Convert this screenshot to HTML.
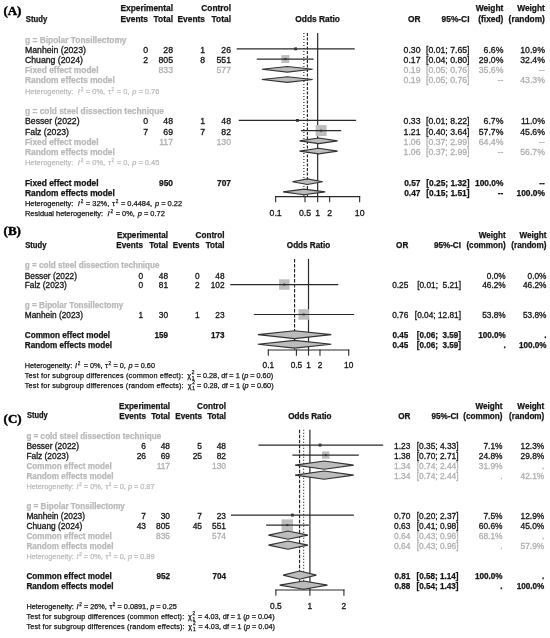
<!DOCTYPE html>
<html lang="en">
<head>
<meta charset="utf-8">
<title>Forest plots</title>
<style>
html,body{margin:0;padding:0;background:#fff;}
body{width:550px;height:638px;overflow:hidden;}
svg{display:block;font-family:"Liberation Sans",Arial,sans-serif;}
text{white-space:pre;}
</style>
</head>
<body>
<svg width="550" height="638" viewBox="0 0 550 638">
<rect width="550" height="638" fill="#ffffff"/>
<g id="panelA">
<text x="3.40" y="15.20" font-weight="bold" fill="#000" stroke="#000" stroke-width="0.45" font-size="13" font-family="Liberation Serif, serif">(A)</text>
<text x="173.00" y="11.48" text-anchor="end" font-weight="bold" fill="#141414" stroke="#141414" stroke-width="0.25" font-size="8.4">Experimental</text>
<text x="231.00" y="11.48" text-anchor="end" font-weight="bold" fill="#141414" stroke="#141414" stroke-width="0.25" font-size="8.4">Control</text>
<text x="503.40" y="11.48" text-anchor="end" font-weight="bold" fill="#141414" stroke="#141414" stroke-width="0.25" font-size="8.4">Weight</text>
<text x="544.90" y="11.48" text-anchor="end" font-weight="bold" fill="#141414" stroke="#141414" stroke-width="0.25" font-size="8.4">Weight</text>
<text x="25.80" y="21.90" font-weight="bold" fill="#141414" stroke="#141414" stroke-width="0.25" font-size="8.4" textLength="21.4" lengthAdjust="spacingAndGlyphs">Study</text>
<text x="148.00" y="21.90" text-anchor="end" font-weight="bold" fill="#141414" stroke="#141414" stroke-width="0.25" font-size="8.4">Events</text>
<text x="173.00" y="21.90" text-anchor="end" font-weight="bold" fill="#141414" stroke="#141414" stroke-width="0.25" font-size="8.4">Total</text>
<text x="205.00" y="21.90" text-anchor="end" font-weight="bold" fill="#141414" stroke="#141414" stroke-width="0.25" font-size="8.4">Events</text>
<text x="231.00" y="21.90" text-anchor="end" font-weight="bold" fill="#141414" stroke="#141414" stroke-width="0.25" font-size="8.4">Total</text>
<text x="317.65" y="21.90" text-anchor="middle" font-weight="bold" fill="#141414" stroke="#141414" stroke-width="0.25" font-size="8.4">Odds Ratio</text>
<text x="420.50" y="21.90" text-anchor="end" font-weight="bold" fill="#141414" stroke="#141414" stroke-width="0.25" font-size="8.4">OR</text>
<text x="469.50" y="21.90" text-anchor="end" font-weight="bold" fill="#141414" stroke="#141414" stroke-width="0.25" font-size="8.4">95%-CI</text>
<text x="503.40" y="21.90" text-anchor="end" font-weight="bold" fill="#141414" stroke="#141414" stroke-width="0.25" font-size="8.4">(fixed)</text>
<text x="544.90" y="21.90" text-anchor="end" font-weight="bold" fill="#141414" stroke="#141414" stroke-width="0.25" font-size="8.4">(random)</text>
<line x1="317.65" y1="32.90" x2="317.65" y2="196.60" stroke="#2a2a2a" stroke-width="1.2"/>
<line x1="307.40" y1="32.90" x2="307.40" y2="196.60" stroke="#222" stroke-width="1.15" stroke-dasharray="3.1 1.4"/>
<line x1="303.88" y1="32.90" x2="303.88" y2="196.60" stroke="#222" stroke-width="1.15" stroke-dasharray="1 2"/>
<text x="25.00" y="42.54" font-weight="bold" fill="#b9b9b9" stroke="#b9b9b9" stroke-width="0.25" font-size="8.4">g = Bipolar Tonsillectomy</text>
<rect x="294.39" y="47.56" width="2.60" height="2.60" fill="#bebebe"/>
<line x1="236.67" y1="48.86" x2="354.76" y2="48.86" stroke="#2a2a2a" stroke-width="1.15"/>
<rect x="294.29" y="47.46" width="2.80" height="2.80" fill="#333"/>
<text x="25.00" y="52.76" fill="#141414" stroke="#141414" stroke-width="0.3" font-size="8.7">Manhein (2023)</text>
<text x="148.00" y="52.76" text-anchor="end" fill="#141414" stroke="#141414" stroke-width="0.3" font-size="8.7">0</text>
<text x="173.00" y="52.76" text-anchor="end" fill="#141414" stroke="#141414" stroke-width="0.3" font-size="8.7">28</text>
<text x="205.00" y="52.76" text-anchor="end" fill="#141414" stroke="#141414" stroke-width="0.3" font-size="8.7">1</text>
<text x="231.00" y="52.76" text-anchor="end" fill="#141414" stroke="#141414" stroke-width="0.3" font-size="8.7">26</text>
<text x="420.50" y="52.76" text-anchor="end" fill="#141414" stroke="#141414" stroke-width="0.3" font-size="8.7">0.30</text>
<text x="469.50" y="52.76" text-anchor="end" fill="#141414" stroke="#141414" stroke-width="0.3" font-size="8.7">[0.01; 7.65]</text>
<text x="503.40" y="52.76" text-anchor="end" fill="#141414" stroke="#141414" stroke-width="0.3" font-size="8.7">6.6%</text>
<text x="544.90" y="52.76" text-anchor="end" fill="#141414" stroke="#141414" stroke-width="0.3" font-size="8.7">10.9%</text>
<rect x="281.33" y="55.08" width="8.00" height="8.00" fill="#bebebe"/>
<line x1="256.76" y1="59.08" x2="313.58" y2="59.08" stroke="#2a2a2a" stroke-width="1.15"/>
<rect x="284.33" y="58.08" width="2.00" height="2.00" fill="#333"/>
<text x="25.00" y="62.98" fill="#141414" stroke="#141414" stroke-width="0.3" font-size="8.7">Chuang (2024)</text>
<text x="148.00" y="62.98" text-anchor="end" fill="#141414" stroke="#141414" stroke-width="0.3" font-size="8.7">2</text>
<text x="173.00" y="62.98" text-anchor="end" fill="#141414" stroke="#141414" stroke-width="0.3" font-size="8.7">805</text>
<text x="205.00" y="62.98" text-anchor="end" fill="#141414" stroke="#141414" stroke-width="0.3" font-size="8.7">8</text>
<text x="231.00" y="62.98" text-anchor="end" fill="#141414" stroke="#141414" stroke-width="0.3" font-size="8.7">551</text>
<text x="420.50" y="62.98" text-anchor="end" fill="#141414" stroke="#141414" stroke-width="0.3" font-size="8.7">0.17</text>
<text x="469.50" y="62.98" text-anchor="end" fill="#141414" stroke="#141414" stroke-width="0.3" font-size="8.7">[0.04; 0.80]</text>
<text x="503.40" y="62.98" text-anchor="end" fill="#141414" stroke="#141414" stroke-width="0.3" font-size="8.7">29.0%</text>
<text x="544.90" y="62.98" text-anchor="end" fill="#141414" stroke="#141414" stroke-width="0.3" font-size="8.7">32.4%</text>
<polygon points="261.88,69.30 287.36,66.50 312.64,69.30 287.36,72.10" fill="#bcbcbc" stroke="#333" stroke-width="1.15" stroke-linejoin="miter"/>
<text x="25.00" y="73.20" font-weight="bold" fill="#b9b9b9" stroke="#b9b9b9" stroke-width="0.25" font-size="8.4">Fixed effect model</text>
<text x="173.00" y="73.20" text-anchor="end" fill="#b0b0b0" stroke="#b0b0b0" stroke-width="0.3" font-size="8.7">833</text>
<text x="231.00" y="73.20" text-anchor="end" fill="#b0b0b0" stroke="#b0b0b0" stroke-width="0.3" font-size="8.7">577</text>
<text x="420.50" y="73.20" text-anchor="end" fill="#b0b0b0" stroke="#b0b0b0" stroke-width="0.3" font-size="8.7">0.19</text>
<text x="469.50" y="73.20" text-anchor="end" fill="#b0b0b0" stroke="#b0b0b0" stroke-width="0.3" font-size="8.7">[0.05; 0.76]</text>
<text x="503.40" y="73.20" text-anchor="end" fill="#b0b0b0" stroke="#b0b0b0" stroke-width="0.3" font-size="8.7">35.6%</text>
<text x="544.90" y="73.20" text-anchor="end" fill="#b0b0b0" stroke="#b0b0b0" stroke-width="0.3" font-size="8.7">--</text>
<polygon points="261.88,79.52 287.36,76.72 312.64,79.52 287.36,82.32" fill="#bcbcbc" stroke="#333" stroke-width="1.15" stroke-linejoin="miter"/>
<text x="25.00" y="83.42" font-weight="bold" fill="#b9b9b9" stroke="#b9b9b9" stroke-width="0.25" font-size="8.4">Random effects model</text>
<text x="420.50" y="83.42" text-anchor="end" fill="#b0b0b0" stroke="#b0b0b0" stroke-width="0.3" font-size="8.7">0.19</text>
<text x="469.50" y="83.42" text-anchor="end" fill="#b0b0b0" stroke="#b0b0b0" stroke-width="0.3" font-size="8.7">[0.05; 0.76]</text>
<text x="503.40" y="83.42" text-anchor="end" fill="#b0b0b0" stroke="#b0b0b0" stroke-width="0.3" font-size="8.7">--</text>
<text x="544.90" y="83.42" text-anchor="end" fill="#b0b0b0" stroke="#b0b0b0" stroke-width="0.3" font-size="8.7">43.3%</text>
<text x="25.00" y="93.64" fill="#bcbcbc" stroke="#bcbcbc" stroke-width="0.25" font-size="7.45">Heterogeneity: <tspan font-style="italic" dx="2.2">I</tspan><tspan dy="-2.9" dx="0.9" font-size="4.6">2</tspan><tspan dy="2.9" dx="0.6"> </tspan>= 0%, <tspan dx="0.8">τ</tspan><tspan dy="-2.9" dx="0.6" font-size="4.6">2</tspan><tspan dy="2.9" dx="0.6"> </tspan>= 0, <tspan font-style="italic" dx="0.8">p</tspan> = 0.76</text>
<text x="25.00" y="114.08" font-weight="bold" fill="#b9b9b9" stroke="#b9b9b9" stroke-width="0.25" font-size="8.4">g = cold steel dissection technique</text>
<rect x="296.13" y="119.10" width="2.60" height="2.60" fill="#bebebe"/>
<line x1="238.71" y1="120.40" x2="356.07" y2="120.40" stroke="#2a2a2a" stroke-width="1.15"/>
<rect x="296.03" y="119.00" width="2.80" height="2.80" fill="#333"/>
<text x="25.00" y="124.30" fill="#141414" stroke="#141414" stroke-width="0.3" font-size="8.7">Besser (2022)</text>
<text x="148.00" y="124.30" text-anchor="end" fill="#141414" stroke="#141414" stroke-width="0.3" font-size="8.7">0</text>
<text x="173.00" y="124.30" text-anchor="end" fill="#141414" stroke="#141414" stroke-width="0.3" font-size="8.7">48</text>
<text x="205.00" y="124.30" text-anchor="end" fill="#141414" stroke="#141414" stroke-width="0.3" font-size="8.7">1</text>
<text x="231.00" y="124.30" text-anchor="end" fill="#141414" stroke="#141414" stroke-width="0.3" font-size="8.7">48</text>
<text x="420.50" y="124.30" text-anchor="end" fill="#141414" stroke="#141414" stroke-width="0.3" font-size="8.7">0.33</text>
<text x="469.50" y="124.30" text-anchor="end" fill="#141414" stroke="#141414" stroke-width="0.3" font-size="8.7">[0.01; 8.22]</text>
<text x="503.40" y="124.30" text-anchor="end" fill="#141414" stroke="#141414" stroke-width="0.3" font-size="8.7">6.7%</text>
<text x="544.90" y="124.30" text-anchor="end" fill="#141414" stroke="#141414" stroke-width="0.3" font-size="8.7">11.0%</text>
<rect x="315.63" y="125.12" width="11.00" height="11.00" fill="#bebebe"/>
<line x1="300.94" y1="130.62" x2="341.22" y2="130.62" stroke="#2a2a2a" stroke-width="1.15"/>
<rect x="320.13" y="129.62" width="2.00" height="2.00" fill="#333"/>
<text x="25.00" y="134.52" fill="#141414" stroke="#141414" stroke-width="0.3" font-size="8.7">Falz (2023)</text>
<text x="148.00" y="134.52" text-anchor="end" fill="#141414" stroke="#141414" stroke-width="0.3" font-size="8.7">7</text>
<text x="173.00" y="134.52" text-anchor="end" fill="#141414" stroke="#141414" stroke-width="0.3" font-size="8.7">69</text>
<text x="205.00" y="134.52" text-anchor="end" fill="#141414" stroke="#141414" stroke-width="0.3" font-size="8.7">7</text>
<text x="231.00" y="134.52" text-anchor="end" fill="#141414" stroke="#141414" stroke-width="0.3" font-size="8.7">82</text>
<text x="420.50" y="134.52" text-anchor="end" fill="#141414" stroke="#141414" stroke-width="0.3" font-size="8.7">1.21</text>
<text x="469.50" y="134.52" text-anchor="end" fill="#141414" stroke="#141414" stroke-width="0.3" font-size="8.7">[0.40; 3.64]</text>
<text x="503.40" y="134.52" text-anchor="end" fill="#141414" stroke="#141414" stroke-width="0.3" font-size="8.7">57.7%</text>
<text x="544.90" y="134.52" text-anchor="end" fill="#141414" stroke="#141414" stroke-width="0.3" font-size="8.7">45.6%</text>
<polygon points="299.51,140.84 318.71,138.04 337.63,140.84 318.71,143.64" fill="#bcbcbc" stroke="#333" stroke-width="1.15" stroke-linejoin="miter"/>
<text x="25.00" y="144.74" font-weight="bold" fill="#b9b9b9" stroke="#b9b9b9" stroke-width="0.25" font-size="8.4">Fixed effect model</text>
<text x="173.00" y="144.74" text-anchor="end" fill="#b0b0b0" stroke="#b0b0b0" stroke-width="0.3" font-size="8.7">117</text>
<text x="231.00" y="144.74" text-anchor="end" fill="#b0b0b0" stroke="#b0b0b0" stroke-width="0.3" font-size="8.7">130</text>
<text x="420.50" y="144.74" text-anchor="end" fill="#b0b0b0" stroke="#b0b0b0" stroke-width="0.3" font-size="8.7">1.06</text>
<text x="469.50" y="144.74" text-anchor="end" fill="#b0b0b0" stroke="#b0b0b0" stroke-width="0.3" font-size="8.7">[0.37; 2.99]</text>
<text x="503.40" y="144.74" text-anchor="end" fill="#b0b0b0" stroke="#b0b0b0" stroke-width="0.3" font-size="8.7">64.4%</text>
<text x="544.90" y="144.74" text-anchor="end" fill="#b0b0b0" stroke="#b0b0b0" stroke-width="0.3" font-size="8.7">--</text>
<polygon points="299.51,151.06 318.71,148.26 337.63,151.06 318.71,153.86" fill="#bcbcbc" stroke="#333" stroke-width="1.15" stroke-linejoin="miter"/>
<text x="25.00" y="154.96" font-weight="bold" fill="#b9b9b9" stroke="#b9b9b9" stroke-width="0.25" font-size="8.4">Random effects model</text>
<text x="420.50" y="154.96" text-anchor="end" fill="#b0b0b0" stroke="#b0b0b0" stroke-width="0.3" font-size="8.7">1.06</text>
<text x="469.50" y="154.96" text-anchor="end" fill="#b0b0b0" stroke="#b0b0b0" stroke-width="0.3" font-size="8.7">[0.37; 2.99]</text>
<text x="503.40" y="154.96" text-anchor="end" fill="#b0b0b0" stroke="#b0b0b0" stroke-width="0.3" font-size="8.7">--</text>
<text x="544.90" y="154.96" text-anchor="end" fill="#b0b0b0" stroke="#b0b0b0" stroke-width="0.3" font-size="8.7">56.7%</text>
<text x="25.00" y="165.18" fill="#bcbcbc" stroke="#bcbcbc" stroke-width="0.25" font-size="7.45">Heterogeneity: <tspan font-style="italic" dx="2.2">I</tspan><tspan dy="-2.9" dx="0.9" font-size="4.6">2</tspan><tspan dy="2.9" dx="0.6"> </tspan>= 0%, <tspan dx="0.8">τ</tspan><tspan dy="-2.9" dx="0.6" font-size="4.6">2</tspan><tspan dy="2.9" dx="0.6"> </tspan>= 0, <tspan font-style="italic" dx="0.8">p</tspan> = 0.45</text>
<polygon points="292.36,181.72 307.40,178.92 322.71,181.72 307.40,184.52" fill="#bcbcbc" stroke="#333" stroke-width="1.15" stroke-linejoin="miter"/>
<text x="25.00" y="185.62" font-weight="bold" fill="#141414" stroke="#141414" stroke-width="0.25" font-size="8.4">Fixed effect model</text>
<text x="173.00" y="185.62" text-anchor="end" font-weight="bold" fill="#141414" stroke="#141414" stroke-width="0.25" font-size="8.4">950</text>
<text x="231.00" y="185.62" text-anchor="end" font-weight="bold" fill="#141414" stroke="#141414" stroke-width="0.25" font-size="8.4">707</text>
<text x="420.50" y="185.62" text-anchor="end" font-weight="bold" fill="#141414" stroke="#141414" stroke-width="0.25" font-size="8.4">0.57</text>
<text x="469.50" y="185.62" text-anchor="end" font-weight="bold" fill="#141414" stroke="#141414" stroke-width="0.25" font-size="8.4">[0.25; 1.32]</text>
<text x="503.40" y="185.62" text-anchor="end" font-weight="bold" fill="#141414" stroke="#141414" stroke-width="0.25" font-size="8.4">100.0%</text>
<text x="544.90" y="185.62" text-anchor="end" font-weight="bold" fill="#141414" stroke="#141414" stroke-width="0.25" font-size="8.4">--</text>
<polygon points="283.05,191.94 303.88,189.14 325.17,191.94 303.88,194.74" fill="#bcbcbc" stroke="#333" stroke-width="1.15" stroke-linejoin="miter"/>
<text x="25.00" y="195.84" font-weight="bold" fill="#141414" stroke="#141414" stroke-width="0.25" font-size="8.4">Random effects model</text>
<text x="420.50" y="195.84" text-anchor="end" font-weight="bold" fill="#141414" stroke="#141414" stroke-width="0.25" font-size="8.4">0.47</text>
<text x="469.50" y="195.84" text-anchor="end" font-weight="bold" fill="#141414" stroke="#141414" stroke-width="0.25" font-size="8.4">[0.15; 1.51]</text>
<text x="503.40" y="195.84" text-anchor="end" font-weight="bold" fill="#141414" stroke="#141414" stroke-width="0.25" font-size="8.4">--</text>
<text x="544.90" y="195.84" text-anchor="end" font-weight="bold" fill="#141414" stroke="#141414" stroke-width="0.25" font-size="8.4">100.0%</text>
<text x="25.00" y="206.06" fill="#141414" stroke="#141414" stroke-width="0.25" font-size="7.45">Heterogeneity: <tspan font-style="italic" dx="2.2">I</tspan><tspan dy="-2.9" dx="0.9" font-size="4.6">2</tspan><tspan dy="2.9" dx="0.6"> </tspan>= 32%, <tspan dx="0.8">τ</tspan><tspan dy="-2.9" dx="0.6" font-size="4.6">2</tspan><tspan dy="2.9" dx="0.6"> </tspan>= 0.4484, <tspan font-style="italic" dx="0.8">p</tspan> = 0.22</text>
<text x="25.00" y="216.28" fill="#141414" stroke="#141414" stroke-width="0.25" font-size="7.45">Residual heterogeneity: <tspan font-style="italic" dx="2.2">I</tspan><tspan dy="-2.9" dx="0.9" font-size="4.6">2</tspan><tspan dy="2.9" dx="0.6"> </tspan>= 0%, <tspan font-style="italic" dx="0.8">p</tspan> = 0.72</text>
<line x1="275.15" y1="196.60" x2="360.15" y2="196.60" stroke="#2a2a2a" stroke-width="1.1"/>
<line x1="275.65" y1="196.10" x2="275.65" y2="202.30" stroke="#2a2a2a" stroke-width="1.1"/>
<line x1="305.01" y1="196.10" x2="305.01" y2="202.30" stroke="#2a2a2a" stroke-width="1.1"/>
<line x1="317.65" y1="196.10" x2="317.65" y2="202.30" stroke="#2a2a2a" stroke-width="1.1"/>
<line x1="329.64" y1="196.10" x2="329.64" y2="202.30" stroke="#2a2a2a" stroke-width="1.1"/>
<line x1="359.65" y1="196.10" x2="359.65" y2="202.30" stroke="#2a2a2a" stroke-width="1.1"/>
<text x="275.65" y="215.60" text-anchor="middle" fill="#141414" stroke="#141414" stroke-width="0.3" font-size="8.7">0.1</text>
<text x="305.01" y="215.60" text-anchor="middle" fill="#141414" stroke="#141414" stroke-width="0.3" font-size="8.7">0.5</text>
<text x="317.65" y="215.60" text-anchor="middle" fill="#141414" stroke="#141414" stroke-width="0.3" font-size="8.7">1</text>
<text x="329.64" y="215.60" text-anchor="middle" fill="#141414" stroke="#141414" stroke-width="0.3" font-size="8.7">2</text>
<text x="359.65" y="215.60" text-anchor="middle" fill="#141414" stroke="#141414" stroke-width="0.3" font-size="8.7">10</text>
</g>
<g id="panelB">
<text x="3.60" y="234.80" font-weight="bold" fill="#000" stroke="#000" stroke-width="0.45" font-size="13" font-family="Liberation Serif, serif">(B)</text>
<text x="168.00" y="238.30" text-anchor="end" font-weight="bold" fill="#141414" stroke="#141414" stroke-width="0.25" font-size="8.15">Experimental</text>
<text x="224.50" y="238.30" text-anchor="end" font-weight="bold" fill="#141414" stroke="#141414" stroke-width="0.25" font-size="8.15">Control</text>
<text x="505.70" y="238.30" text-anchor="end" font-weight="bold" fill="#141414" stroke="#141414" stroke-width="0.25" font-size="8.15">Weight</text>
<text x="546.50" y="238.30" text-anchor="end" font-weight="bold" fill="#141414" stroke="#141414" stroke-width="0.25" font-size="8.15">Weight</text>
<text x="25.20" y="247.50" font-weight="bold" fill="#141414" stroke="#141414" stroke-width="0.25" font-size="8.15" textLength="21.2" lengthAdjust="spacingAndGlyphs">Study</text>
<text x="143.00" y="247.50" text-anchor="end" font-weight="bold" fill="#141414" stroke="#141414" stroke-width="0.25" font-size="8.15">Events</text>
<text x="168.00" y="247.50" text-anchor="end" font-weight="bold" fill="#141414" stroke="#141414" stroke-width="0.25" font-size="8.15">Total</text>
<text x="199.50" y="247.50" text-anchor="end" font-weight="bold" fill="#141414" stroke="#141414" stroke-width="0.25" font-size="8.15">Events</text>
<text x="224.50" y="247.50" text-anchor="end" font-weight="bold" fill="#141414" stroke="#141414" stroke-width="0.25" font-size="8.15">Total</text>
<text x="308.50" y="247.50" text-anchor="middle" font-weight="bold" fill="#141414" stroke="#141414" stroke-width="0.25" font-size="8.15">Odds Ratio</text>
<text x="408.30" y="247.50" text-anchor="end" font-weight="bold" fill="#141414" stroke="#141414" stroke-width="0.25" font-size="8.15">OR</text>
<text x="461.00" y="247.50" text-anchor="end" font-weight="bold" fill="#141414" stroke="#141414" stroke-width="0.25" font-size="8.15">95%-CI</text>
<text x="505.70" y="247.50" text-anchor="end" font-weight="bold" fill="#141414" stroke="#141414" stroke-width="0.25" font-size="8.15">(common)</text>
<text x="546.50" y="247.50" text-anchor="end" font-weight="bold" fill="#141414" stroke="#141414" stroke-width="0.25" font-size="8.15">(random)</text>
<line x1="308.50" y1="258.90" x2="308.50" y2="350.00" stroke="#2a2a2a" stroke-width="1.2"/>
<line x1="294.56" y1="258.90" x2="294.56" y2="350.00" stroke="#222" stroke-width="1.15" stroke-dasharray="3.7 1.3"/>
<text x="24.80" y="267.80" font-weight="bold" fill="#b9b9b9" stroke="#b9b9b9" stroke-width="0.25" font-size="8.15">g = cold steel dissection technique</text>
<text x="24.80" y="278.50" fill="#141414" stroke="#141414" stroke-width="0.3" font-size="8.3">Besser (2022)</text>
<text x="143.00" y="278.50" text-anchor="end" fill="#141414" stroke="#141414" stroke-width="0.3" font-size="8.3">0</text>
<text x="168.00" y="278.50" text-anchor="end" fill="#141414" stroke="#141414" stroke-width="0.3" font-size="8.3">48</text>
<text x="199.50" y="278.50" text-anchor="end" fill="#141414" stroke="#141414" stroke-width="0.3" font-size="8.3">0</text>
<text x="224.50" y="278.50" text-anchor="end" fill="#141414" stroke="#141414" stroke-width="0.3" font-size="8.3">48</text>
<text x="505.70" y="278.50" text-anchor="end" fill="#141414" stroke="#141414" stroke-width="0.3" font-size="8.3">0.0%</text>
<text x="546.50" y="278.50" text-anchor="end" fill="#141414" stroke="#141414" stroke-width="0.3" font-size="8.3">0.0%</text>
<rect x="279.05" y="279.30" width="10.50" height="10.50" fill="#bebebe"/>
<line x1="230.23" y1="284.55" x2="338.26" y2="284.55" stroke="#2a2a2a" stroke-width="1.15"/>
<rect x="283.30" y="283.55" width="2.00" height="2.00" fill="#333"/>
<text x="24.80" y="287.90" fill="#141414" stroke="#141414" stroke-width="0.3" font-size="8.3">Falz (2023)</text>
<text x="143.00" y="287.90" text-anchor="end" fill="#141414" stroke="#141414" stroke-width="0.3" font-size="8.3">0</text>
<text x="168.00" y="287.90" text-anchor="end" fill="#141414" stroke="#141414" stroke-width="0.3" font-size="8.3">81</text>
<text x="199.50" y="287.90" text-anchor="end" fill="#141414" stroke="#141414" stroke-width="0.3" font-size="8.3">2</text>
<text x="224.50" y="287.90" text-anchor="end" fill="#141414" stroke="#141414" stroke-width="0.3" font-size="8.3">102</text>
<text x="408.30" y="287.90" text-anchor="end" fill="#141414" stroke="#141414" stroke-width="0.3" font-size="8.3">0.25</text>
<text x="461.00" y="287.90" text-anchor="end" fill="#141414" stroke="#141414" stroke-width="0.3" font-size="8.3">[0.01;  5.21]</text>
<text x="505.70" y="287.90" text-anchor="end" fill="#141414" stroke="#141414" stroke-width="0.3" font-size="8.3">46.2%</text>
<text x="546.50" y="287.90" text-anchor="end" fill="#141414" stroke="#141414" stroke-width="0.3" font-size="8.3">46.2%</text>
<text x="24.80" y="307.80" font-weight="bold" fill="#b9b9b9" stroke="#b9b9b9" stroke-width="0.25" font-size="8.15">g = Bipolar Tonsillectomy</text>
<rect x="298.46" y="309.20" width="10.50" height="10.50" fill="#bebebe"/>
<line x1="253.77" y1="314.45" x2="354.20" y2="314.45" stroke="#2a2a2a" stroke-width="1.15"/>
<rect x="302.71" y="313.45" width="2.00" height="2.00" fill="#333"/>
<text x="24.80" y="317.80" fill="#141414" stroke="#141414" stroke-width="0.3" font-size="8.3">Manhein (2023)</text>
<text x="143.00" y="317.80" text-anchor="end" fill="#141414" stroke="#141414" stroke-width="0.3" font-size="8.3">1</text>
<text x="168.00" y="317.80" text-anchor="end" fill="#141414" stroke="#141414" stroke-width="0.3" font-size="8.3">30</text>
<text x="199.50" y="317.80" text-anchor="end" fill="#141414" stroke="#141414" stroke-width="0.3" font-size="8.3">1</text>
<text x="224.50" y="317.80" text-anchor="end" fill="#141414" stroke="#141414" stroke-width="0.3" font-size="8.3">23</text>
<text x="408.30" y="317.80" text-anchor="end" fill="#141414" stroke="#141414" stroke-width="0.3" font-size="8.3">0.76</text>
<text x="461.00" y="317.80" text-anchor="end" fill="#141414" stroke="#141414" stroke-width="0.3" font-size="8.3">[0.04; 12.81]</text>
<text x="505.70" y="317.80" text-anchor="end" fill="#141414" stroke="#141414" stroke-width="0.3" font-size="8.3">53.8%</text>
<text x="546.50" y="317.80" text-anchor="end" fill="#141414" stroke="#141414" stroke-width="0.3" font-size="8.3">53.8%</text>
<polygon points="257.86,334.65 294.56,330.75 331.29,334.65 294.56,338.55" fill="#bcbcbc" stroke="#333" stroke-width="1.15" stroke-linejoin="miter"/>
<text x="24.80" y="338.00" font-weight="bold" fill="#141414" stroke="#141414" stroke-width="0.25" font-size="8.15">Common effect model</text>
<text x="168.00" y="338.00" text-anchor="end" font-weight="bold" fill="#141414" stroke="#141414" stroke-width="0.25" font-size="8.15">159</text>
<text x="224.50" y="338.00" text-anchor="end" font-weight="bold" fill="#141414" stroke="#141414" stroke-width="0.25" font-size="8.15">173</text>
<text x="408.30" y="338.00" text-anchor="end" font-weight="bold" fill="#141414" stroke="#141414" stroke-width="0.25" font-size="8.15">0.45</text>
<text x="461.00" y="338.00" text-anchor="end" font-weight="bold" fill="#141414" stroke="#141414" stroke-width="0.25" font-size="8.15">[0.06;  3.59]</text>
<text x="505.70" y="338.00" text-anchor="end" font-weight="bold" fill="#141414" stroke="#141414" stroke-width="0.25" font-size="8.15">100.0%</text>
<text x="546.50" y="338.00" text-anchor="end" font-weight="bold" fill="#141414" stroke="#141414" stroke-width="0.25" font-size="8.15">.</text>
<polygon points="257.86,344.25 294.56,340.35 331.29,344.25 294.56,348.15" fill="#bcbcbc" stroke="#333" stroke-width="1.15" stroke-linejoin="miter"/>
<text x="24.80" y="347.60" font-weight="bold" fill="#141414" stroke="#141414" stroke-width="0.25" font-size="8.15">Random effects model</text>
<text x="408.30" y="347.60" text-anchor="end" font-weight="bold" fill="#141414" stroke="#141414" stroke-width="0.25" font-size="8.15">0.45</text>
<text x="461.00" y="347.60" text-anchor="end" font-weight="bold" fill="#141414" stroke="#141414" stroke-width="0.25" font-size="8.15">[0.06;  3.59]</text>
<text x="505.70" y="347.60" text-anchor="end" font-weight="bold" fill="#141414" stroke="#141414" stroke-width="0.25" font-size="8.15">.</text>
<text x="546.50" y="347.60" text-anchor="end" font-weight="bold" fill="#141414" stroke="#141414" stroke-width="0.25" font-size="8.15">100.0%</text>
<text x="24.80" y="368.20" fill="#141414" stroke="#141414" stroke-width="0.25" font-size="7.3">Heterogeneity: <tspan font-style="italic" dx="0.7">I</tspan><tspan dy="-2.9" dx="0.7" font-size="4.6">2</tspan><tspan dy="2.9" dx="1.3"> </tspan>= 0%, <tspan dx="0.6">τ</tspan><tspan dy="-2.9" dx="0.4" font-size="4.6">2</tspan><tspan dy="2.9" dx="0.4"> </tspan>= 0, <tspan font-style="italic" dx="0.6">p</tspan> = 0.60</text>
<text x="24.80" y="377.60" fill="#141414" stroke="#141414" stroke-width="0.25" font-size="7.3" textLength="158.4" lengthAdjust="spacing">Test for subgroup differences (common effect):</text>
<text x="187.30" y="377.60" fill="#141414" stroke="#141414" stroke-width="0.25" font-size="7.3">χ</text>
<text x="191.80" y="374.30" fill="#141414" stroke="#141414" stroke-width="0.25" font-size="4.8">2</text>
<text x="191.80" y="379.50" fill="#141414" stroke="#141414" stroke-width="0.25" font-size="4.8">1</text>
<text x="196.70" y="377.60" fill="#141414" stroke="#141414" stroke-width="0.25" font-size="7.3">= 0.28, df = 1 (<tspan font-style="italic">p</tspan> = 0.60)</text>
<text x="24.80" y="387.70" fill="#141414" stroke="#141414" stroke-width="0.25" font-size="7.3" textLength="158.8" lengthAdjust="spacing">Test for subgroup differences (random effects):</text>
<text x="187.70" y="387.70" fill="#141414" stroke="#141414" stroke-width="0.25" font-size="7.3">χ</text>
<text x="192.20" y="384.40" fill="#141414" stroke="#141414" stroke-width="0.25" font-size="4.8">2</text>
<text x="192.20" y="389.60" fill="#141414" stroke="#141414" stroke-width="0.25" font-size="4.8">1</text>
<text x="197.10" y="387.70" fill="#141414" stroke="#141414" stroke-width="0.25" font-size="7.3">= 0.28, df = 1 (<tspan font-style="italic">p</tspan> = 0.60)</text>
<line x1="267.80" y1="350.00" x2="349.20" y2="350.00" stroke="#2a2a2a" stroke-width="1.1"/>
<line x1="268.30" y1="349.50" x2="268.30" y2="355.70" stroke="#2a2a2a" stroke-width="1.1"/>
<line x1="296.40" y1="349.50" x2="296.40" y2="355.70" stroke="#2a2a2a" stroke-width="1.1"/>
<line x1="308.50" y1="349.50" x2="308.50" y2="355.70" stroke="#2a2a2a" stroke-width="1.1"/>
<line x1="319.98" y1="349.50" x2="319.98" y2="355.70" stroke="#2a2a2a" stroke-width="1.1"/>
<line x1="348.70" y1="349.50" x2="348.70" y2="355.70" stroke="#2a2a2a" stroke-width="1.1"/>
<text x="268.30" y="368.30" text-anchor="middle" fill="#141414" stroke="#141414" stroke-width="0.3" font-size="8.3">0.1</text>
<text x="296.40" y="368.30" text-anchor="middle" fill="#141414" stroke="#141414" stroke-width="0.3" font-size="8.3">0.5</text>
<text x="308.50" y="368.30" text-anchor="middle" fill="#141414" stroke="#141414" stroke-width="0.3" font-size="8.3">1</text>
<text x="319.98" y="368.30" text-anchor="middle" fill="#141414" stroke="#141414" stroke-width="0.3" font-size="8.3">2</text>
<text x="348.70" y="368.30" text-anchor="middle" fill="#141414" stroke="#141414" stroke-width="0.3" font-size="8.3">10</text>
</g>
<g id="panelC">
<text x="3.60" y="422.90" font-weight="bold" fill="#000" stroke="#000" stroke-width="0.45" font-size="13" font-family="Liberation Serif, serif">(C)</text>
<text x="170.00" y="408.50" text-anchor="end" font-weight="bold" fill="#141414" stroke="#141414" stroke-width="0.25" font-size="8.15">Experimental</text>
<text x="226.00" y="408.50" text-anchor="end" font-weight="bold" fill="#141414" stroke="#141414" stroke-width="0.25" font-size="8.15">Control</text>
<text x="502.50" y="408.50" text-anchor="end" font-weight="bold" fill="#141414" stroke="#141414" stroke-width="0.25" font-size="8.15">Weight</text>
<text x="544.30" y="408.50" text-anchor="end" font-weight="bold" fill="#141414" stroke="#141414" stroke-width="0.25" font-size="8.15">Weight</text>
<text x="26.90" y="417.70" font-weight="bold" fill="#141414" stroke="#141414" stroke-width="0.25" font-size="8.15" textLength="20.8" lengthAdjust="spacingAndGlyphs">Study</text>
<text x="146.00" y="418.90" text-anchor="end" font-weight="bold" fill="#141414" stroke="#141414" stroke-width="0.25" font-size="8.15">Events</text>
<text x="170.00" y="418.90" text-anchor="end" font-weight="bold" fill="#141414" stroke="#141414" stroke-width="0.25" font-size="8.15">Total</text>
<text x="202.00" y="418.90" text-anchor="end" font-weight="bold" fill="#141414" stroke="#141414" stroke-width="0.25" font-size="8.15">Events</text>
<text x="226.00" y="418.90" text-anchor="end" font-weight="bold" fill="#141414" stroke="#141414" stroke-width="0.25" font-size="8.15">Total</text>
<text x="309.90" y="418.90" text-anchor="middle" font-weight="bold" fill="#141414" stroke="#141414" stroke-width="0.25" font-size="8.15">Odds Ratio</text>
<text x="410.40" y="418.90" text-anchor="end" font-weight="bold" fill="#141414" stroke="#141414" stroke-width="0.25" font-size="8.15">OR</text>
<text x="458.60" y="418.90" text-anchor="end" font-weight="bold" fill="#141414" stroke="#141414" stroke-width="0.25" font-size="8.15">95%-CI</text>
<text x="502.50" y="418.90" text-anchor="end" font-weight="bold" fill="#141414" stroke="#141414" stroke-width="0.25" font-size="8.15">(common)</text>
<text x="544.30" y="418.90" text-anchor="end" font-weight="bold" fill="#141414" stroke="#141414" stroke-width="0.25" font-size="8.15">(random)</text>
<line x1="309.90" y1="429.70" x2="309.90" y2="590.00" stroke="#2a2a2a" stroke-width="1.2"/>
<line x1="299.56" y1="429.70" x2="299.56" y2="590.00" stroke="#222" stroke-width="1.15" stroke-dasharray="3.6 1.4"/>
<line x1="303.63" y1="429.70" x2="303.63" y2="590.00" stroke="#222" stroke-width="1.15" stroke-dasharray="1 2"/>
<text x="26.40" y="438.70" font-weight="bold" fill="#b9b9b9" stroke="#b9b9b9" stroke-width="0.25" font-size="8.15">g = cold steel dissection technique</text>
<rect x="318.76" y="443.80" width="2.60" height="2.60" fill="#bebebe"/>
<line x1="258.38" y1="445.10" x2="383.16" y2="445.10" stroke="#2a2a2a" stroke-width="1.15"/>
<rect x="318.66" y="443.70" width="2.80" height="2.80" fill="#333"/>
<text x="26.40" y="448.70" fill="#141414" stroke="#141414" stroke-width="0.3" font-size="8.4">Besser (2022)</text>
<text x="146.00" y="448.70" text-anchor="end" fill="#141414" stroke="#141414" stroke-width="0.3" font-size="8.4">6</text>
<text x="170.00" y="448.70" text-anchor="end" fill="#141414" stroke="#141414" stroke-width="0.3" font-size="8.4">48</text>
<text x="202.00" y="448.70" text-anchor="end" fill="#141414" stroke="#141414" stroke-width="0.3" font-size="8.4">5</text>
<text x="226.00" y="448.70" text-anchor="end" fill="#141414" stroke="#141414" stroke-width="0.3" font-size="8.4">48</text>
<text x="410.40" y="448.70" text-anchor="end" fill="#141414" stroke="#141414" stroke-width="0.3" font-size="8.4">1.23</text>
<text x="458.60" y="448.70" text-anchor="end" fill="#141414" stroke="#141414" stroke-width="0.3" font-size="8.4">[0.35; 4.33]</text>
<text x="502.50" y="448.70" text-anchor="end" fill="#141414" stroke="#141414" stroke-width="0.3" font-size="8.4">7.1%</text>
<text x="544.30" y="448.70" text-anchor="end" fill="#141414" stroke="#141414" stroke-width="0.3" font-size="8.4">12.3%</text>
<rect x="322.01" y="451.40" width="7.40" height="7.40" fill="#bebebe"/>
<line x1="292.40" y1="455.10" x2="358.83" y2="455.10" stroke="#2a2a2a" stroke-width="1.15"/>
<rect x="324.71" y="454.10" width="2.00" height="2.00" fill="#333"/>
<text x="26.40" y="458.70" fill="#141414" stroke="#141414" stroke-width="0.3" font-size="8.4">Falz (2023)</text>
<text x="146.00" y="458.70" text-anchor="end" fill="#141414" stroke="#141414" stroke-width="0.3" font-size="8.4">26</text>
<text x="170.00" y="458.70" text-anchor="end" fill="#141414" stroke="#141414" stroke-width="0.3" font-size="8.4">69</text>
<text x="202.00" y="458.70" text-anchor="end" fill="#141414" stroke="#141414" stroke-width="0.3" font-size="8.4">25</text>
<text x="226.00" y="458.70" text-anchor="end" fill="#141414" stroke="#141414" stroke-width="0.3" font-size="8.4">82</text>
<text x="410.40" y="458.70" text-anchor="end" fill="#141414" stroke="#141414" stroke-width="0.3" font-size="8.4">1.38</text>
<text x="458.60" y="458.70" text-anchor="end" fill="#141414" stroke="#141414" stroke-width="0.3" font-size="8.4">[0.70; 2.71]</text>
<text x="502.50" y="458.70" text-anchor="end" fill="#141414" stroke="#141414" stroke-width="0.3" font-size="8.4">24.8%</text>
<text x="544.30" y="458.70" text-anchor="end" fill="#141414" stroke="#141414" stroke-width="0.3" font-size="8.4">29.8%</text>
<polygon points="295.12,465.10 324.26,461.00 353.68,465.10 324.26,469.20" fill="#bcbcbc" stroke="#333" stroke-width="1.15" stroke-linejoin="miter"/>
<text x="26.40" y="468.70" font-weight="bold" fill="#b9b9b9" stroke="#b9b9b9" stroke-width="0.25" font-size="8.15">Common effect model</text>
<text x="170.00" y="468.70" text-anchor="end" fill="#b0b0b0" stroke="#b0b0b0" stroke-width="0.3" font-size="8.4">117</text>
<text x="226.00" y="468.70" text-anchor="end" fill="#b0b0b0" stroke="#b0b0b0" stroke-width="0.3" font-size="8.4">130</text>
<text x="410.40" y="468.70" text-anchor="end" fill="#b0b0b0" stroke="#b0b0b0" stroke-width="0.3" font-size="8.4">1.34</text>
<text x="458.60" y="468.70" text-anchor="end" fill="#b0b0b0" stroke="#b0b0b0" stroke-width="0.3" font-size="8.4">[0.74; 2.44]</text>
<text x="502.50" y="468.70" text-anchor="end" fill="#b0b0b0" stroke="#b0b0b0" stroke-width="0.3" font-size="8.4">31.9%</text>
<text x="544.30" y="468.70" text-anchor="end" fill="#b0b0b0" stroke="#b0b0b0" stroke-width="0.3" font-size="8.4">.</text>
<polygon points="295.12,475.10 324.26,471.00 353.68,475.10 324.26,479.20" fill="#bcbcbc" stroke="#333" stroke-width="1.15" stroke-linejoin="miter"/>
<text x="26.40" y="478.70" font-weight="bold" fill="#b9b9b9" stroke="#b9b9b9" stroke-width="0.25" font-size="8.15">Random effects model</text>
<text x="410.40" y="478.70" text-anchor="end" fill="#b0b0b0" stroke="#b0b0b0" stroke-width="0.3" font-size="8.4">1.34</text>
<text x="458.60" y="478.70" text-anchor="end" fill="#b0b0b0" stroke="#b0b0b0" stroke-width="0.3" font-size="8.4">[0.74; 2.44]</text>
<text x="502.50" y="478.70" text-anchor="end" fill="#b0b0b0" stroke="#b0b0b0" stroke-width="0.3" font-size="8.4">.</text>
<text x="544.30" y="478.70" text-anchor="end" fill="#b0b0b0" stroke="#b0b0b0" stroke-width="0.3" font-size="8.4">42.1%</text>
<text x="26.40" y="488.70" fill="#bcbcbc" stroke="#bcbcbc" stroke-width="0.25" font-size="7.3">Heterogeneity: <tspan font-style="italic" dx="0.5">I</tspan><tspan dy="-2.9" dx="0.7" font-size="4.6">2</tspan><tspan dy="2.9" dx="0.2"> </tspan>= 0%, <tspan dx="0.6">τ</tspan><tspan dy="-2.9" dx="0.4" font-size="4.6">2</tspan><tspan dy="2.9" dx="0.2"> </tspan>= 0, <tspan font-style="italic" dx="0.0">p</tspan> = 0.87</text>
<text x="26.40" y="508.70" font-weight="bold" fill="#b9b9b9" stroke="#b9b9b9" stroke-width="0.25" font-size="8.15">g = Bipolar Tonsillectomy</text>
<rect x="291.10" y="513.80" width="2.60" height="2.60" fill="#bebebe"/>
<line x1="230.92" y1="515.10" x2="353.88" y2="515.10" stroke="#2a2a2a" stroke-width="1.15"/>
<rect x="291.00" y="513.70" width="2.80" height="2.80" fill="#333"/>
<text x="26.40" y="518.70" fill="#141414" stroke="#141414" stroke-width="0.3" font-size="8.4">Manhein (2023)</text>
<text x="146.00" y="518.70" text-anchor="end" fill="#141414" stroke="#141414" stroke-width="0.3" font-size="8.4">7</text>
<text x="170.00" y="518.70" text-anchor="end" fill="#141414" stroke="#141414" stroke-width="0.3" font-size="8.4">30</text>
<text x="202.00" y="518.70" text-anchor="end" fill="#141414" stroke="#141414" stroke-width="0.3" font-size="8.4">7</text>
<text x="226.00" y="518.70" text-anchor="end" fill="#141414" stroke="#141414" stroke-width="0.3" font-size="8.4">23</text>
<text x="410.40" y="518.70" text-anchor="end" fill="#141414" stroke="#141414" stroke-width="0.3" font-size="8.4">0.70</text>
<text x="458.60" y="518.70" text-anchor="end" fill="#141414" stroke="#141414" stroke-width="0.3" font-size="8.4">[0.20; 2.37]</text>
<text x="502.50" y="518.70" text-anchor="end" fill="#141414" stroke="#141414" stroke-width="0.3" font-size="8.4">7.5%</text>
<text x="544.30" y="518.70" text-anchor="end" fill="#141414" stroke="#141414" stroke-width="0.3" font-size="8.4">12.9%</text>
<rect x="281.48" y="519.35" width="11.50" height="11.50" fill="#bebebe"/>
<line x1="266.14" y1="525.10" x2="308.91" y2="525.10" stroke="#2a2a2a" stroke-width="1.15"/>
<rect x="286.23" y="524.10" width="2.00" height="2.00" fill="#333"/>
<text x="26.40" y="528.70" fill="#141414" stroke="#141414" stroke-width="0.3" font-size="8.4">Chuang (2024)</text>
<text x="146.00" y="528.70" text-anchor="end" fill="#141414" stroke="#141414" stroke-width="0.3" font-size="8.4">43</text>
<text x="170.00" y="528.70" text-anchor="end" fill="#141414" stroke="#141414" stroke-width="0.3" font-size="8.4">805</text>
<text x="202.00" y="528.70" text-anchor="end" fill="#141414" stroke="#141414" stroke-width="0.3" font-size="8.4">45</text>
<text x="226.00" y="528.70" text-anchor="end" fill="#141414" stroke="#141414" stroke-width="0.3" font-size="8.4">551</text>
<text x="410.40" y="528.70" text-anchor="end" fill="#141414" stroke="#141414" stroke-width="0.3" font-size="8.4">0.63</text>
<text x="458.60" y="528.70" text-anchor="end" fill="#141414" stroke="#141414" stroke-width="0.3" font-size="8.4">[0.41; 0.98]</text>
<text x="502.50" y="528.70" text-anchor="end" fill="#141414" stroke="#141414" stroke-width="0.3" font-size="8.4">60.6%</text>
<text x="544.30" y="528.70" text-anchor="end" fill="#141414" stroke="#141414" stroke-width="0.3" font-size="8.4">45.0%</text>
<polygon points="268.48,535.10 288.00,531.00 307.90,535.10 288.00,539.20" fill="#bcbcbc" stroke="#333" stroke-width="1.15" stroke-linejoin="miter"/>
<text x="26.40" y="538.70" font-weight="bold" fill="#b9b9b9" stroke="#b9b9b9" stroke-width="0.25" font-size="8.15">Common effect model</text>
<text x="170.00" y="538.70" text-anchor="end" fill="#b0b0b0" stroke="#b0b0b0" stroke-width="0.3" font-size="8.4">835</text>
<text x="226.00" y="538.70" text-anchor="end" fill="#b0b0b0" stroke="#b0b0b0" stroke-width="0.3" font-size="8.4">574</text>
<text x="410.40" y="538.70" text-anchor="end" fill="#b0b0b0" stroke="#b0b0b0" stroke-width="0.3" font-size="8.4">0.64</text>
<text x="458.60" y="538.70" text-anchor="end" fill="#b0b0b0" stroke="#b0b0b0" stroke-width="0.3" font-size="8.4">[0.43; 0.96]</text>
<text x="502.50" y="538.70" text-anchor="end" fill="#b0b0b0" stroke="#b0b0b0" stroke-width="0.3" font-size="8.4">68.1%</text>
<text x="544.30" y="538.70" text-anchor="end" fill="#b0b0b0" stroke="#b0b0b0" stroke-width="0.3" font-size="8.4">.</text>
<polygon points="268.48,545.10 288.00,541.00 307.90,545.10 288.00,549.20" fill="#bcbcbc" stroke="#333" stroke-width="1.15" stroke-linejoin="miter"/>
<text x="26.40" y="548.70" font-weight="bold" fill="#b9b9b9" stroke="#b9b9b9" stroke-width="0.25" font-size="8.15">Random effects model</text>
<text x="410.40" y="548.70" text-anchor="end" fill="#b0b0b0" stroke="#b0b0b0" stroke-width="0.3" font-size="8.4">0.64</text>
<text x="458.60" y="548.70" text-anchor="end" fill="#b0b0b0" stroke="#b0b0b0" stroke-width="0.3" font-size="8.4">[0.43; 0.96]</text>
<text x="502.50" y="548.70" text-anchor="end" fill="#b0b0b0" stroke="#b0b0b0" stroke-width="0.3" font-size="8.4">.</text>
<text x="544.30" y="548.70" text-anchor="end" fill="#b0b0b0" stroke="#b0b0b0" stroke-width="0.3" font-size="8.4">57.9%</text>
<text x="26.40" y="558.70" fill="#bcbcbc" stroke="#bcbcbc" stroke-width="0.25" font-size="7.3">Heterogeneity: <tspan font-style="italic" dx="0.5">I</tspan><tspan dy="-2.9" dx="0.7" font-size="4.6">2</tspan><tspan dy="2.9" dx="0.2"> </tspan>= 0%, <tspan dx="0.6">τ</tspan><tspan dy="-2.9" dx="0.4" font-size="4.6">2</tspan><tspan dy="2.9" dx="0.2"> </tspan>= 0, <tspan font-style="italic" dx="0.0">p</tspan> = 0.89</text>
<polygon points="283.17,575.10 299.56,571.00 316.33,575.10 299.56,579.20" fill="#bcbcbc" stroke="#333" stroke-width="1.15" stroke-linejoin="miter"/>
<text x="26.40" y="578.70" font-weight="bold" fill="#141414" stroke="#141414" stroke-width="0.25" font-size="8.15">Common effect model</text>
<text x="170.00" y="578.70" text-anchor="end" font-weight="bold" fill="#141414" stroke="#141414" stroke-width="0.25" font-size="8.15">952</text>
<text x="226.00" y="578.70" text-anchor="end" font-weight="bold" fill="#141414" stroke="#141414" stroke-width="0.25" font-size="8.15">704</text>
<text x="410.40" y="578.70" text-anchor="end" font-weight="bold" fill="#141414" stroke="#141414" stroke-width="0.25" font-size="8.15">0.81</text>
<text x="458.60" y="578.70" text-anchor="end" font-weight="bold" fill="#141414" stroke="#141414" stroke-width="0.25" font-size="8.15">[0.58; 1.14]</text>
<text x="502.50" y="578.70" text-anchor="end" font-weight="bold" fill="#141414" stroke="#141414" stroke-width="0.25" font-size="8.15">100.0%</text>
<text x="544.30" y="578.70" text-anchor="end" font-weight="bold" fill="#141414" stroke="#141414" stroke-width="0.25" font-size="8.15">.</text>
<polygon points="279.66,585.10 303.63,581.00 327.45,585.10 303.63,589.20" fill="#bcbcbc" stroke="#333" stroke-width="1.15" stroke-linejoin="miter"/>
<text x="26.40" y="588.70" font-weight="bold" fill="#141414" stroke="#141414" stroke-width="0.25" font-size="8.15">Random effects model</text>
<text x="410.40" y="588.70" text-anchor="end" font-weight="bold" fill="#141414" stroke="#141414" stroke-width="0.25" font-size="8.15">0.88</text>
<text x="458.60" y="588.70" text-anchor="end" font-weight="bold" fill="#141414" stroke="#141414" stroke-width="0.25" font-size="8.15">[0.54; 1.43]</text>
<text x="502.50" y="588.70" text-anchor="end" font-weight="bold" fill="#141414" stroke="#141414" stroke-width="0.25" font-size="8.15">.</text>
<text x="544.30" y="588.70" text-anchor="end" font-weight="bold" fill="#141414" stroke="#141414" stroke-width="0.25" font-size="8.15">100.0%</text>
<text x="26.40" y="608.70" fill="#141414" stroke="#141414" stroke-width="0.25" font-size="7.3">Heterogeneity: <tspan font-style="italic" dx="0.5">I</tspan><tspan dy="-2.9" dx="0.7" font-size="4.6">2</tspan><tspan dy="2.9" dx="0.2"> </tspan>= 26%, <tspan dx="0.6">τ</tspan><tspan dy="-2.9" dx="0.4" font-size="4.6">2</tspan><tspan dy="2.9" dx="0.2"> </tspan>= 0.0891, <tspan font-style="italic" dx="0.0">p</tspan> = 0.25</text>
<text x="26.40" y="618.70" fill="#141414" stroke="#141414" stroke-width="0.25" font-size="7.3" textLength="157.8" lengthAdjust="spacing">Test for subgroup differences (common effect):</text>
<text x="187.90" y="618.70" fill="#141414" stroke="#141414" stroke-width="0.25" font-size="7.3">χ</text>
<text x="192.60" y="615.40" fill="#141414" stroke="#141414" stroke-width="0.25" font-size="4.8">2</text>
<text x="192.60" y="620.60" fill="#141414" stroke="#141414" stroke-width="0.25" font-size="4.8">1</text>
<text x="198.10" y="618.70" fill="#141414" stroke="#141414" stroke-width="0.25" font-size="7.3">= 4.03, df = 1 (<tspan font-style="italic">p</tspan> = 0.04)</text>
<text x="26.40" y="628.70" fill="#141414" stroke="#141414" stroke-width="0.25" font-size="7.3" textLength="158.2" lengthAdjust="spacing">Test for subgroup differences (random effects):</text>
<text x="188.30" y="628.70" fill="#141414" stroke="#141414" stroke-width="0.25" font-size="7.3">χ</text>
<text x="193.00" y="625.40" fill="#141414" stroke="#141414" stroke-width="0.25" font-size="4.8">2</text>
<text x="193.00" y="630.60" fill="#141414" stroke="#141414" stroke-width="0.25" font-size="4.8">1</text>
<text x="198.50" y="628.70" fill="#141414" stroke="#141414" stroke-width="0.25" font-size="7.3">= 4.03, df = 1 (<tspan font-style="italic">p</tspan> = 0.04)</text>
<line x1="275.38" y1="590.00" x2="344.42" y2="590.00" stroke="#2a2a2a" stroke-width="1.1"/>
<line x1="275.88" y1="589.50" x2="275.88" y2="595.70" stroke="#2a2a2a" stroke-width="1.1"/>
<line x1="309.90" y1="589.50" x2="309.90" y2="595.70" stroke="#2a2a2a" stroke-width="1.1"/>
<line x1="343.92" y1="589.50" x2="343.92" y2="595.70" stroke="#2a2a2a" stroke-width="1.1"/>
<text x="275.88" y="608.60" text-anchor="middle" fill="#141414" stroke="#141414" stroke-width="0.3" font-size="8.4">0.5</text>
<text x="309.90" y="608.60" text-anchor="middle" fill="#141414" stroke="#141414" stroke-width="0.3" font-size="8.4">1</text>
<text x="343.92" y="608.60" text-anchor="middle" fill="#141414" stroke="#141414" stroke-width="0.3" font-size="8.4">2</text>
</g>
</svg>
</body>
</html>
